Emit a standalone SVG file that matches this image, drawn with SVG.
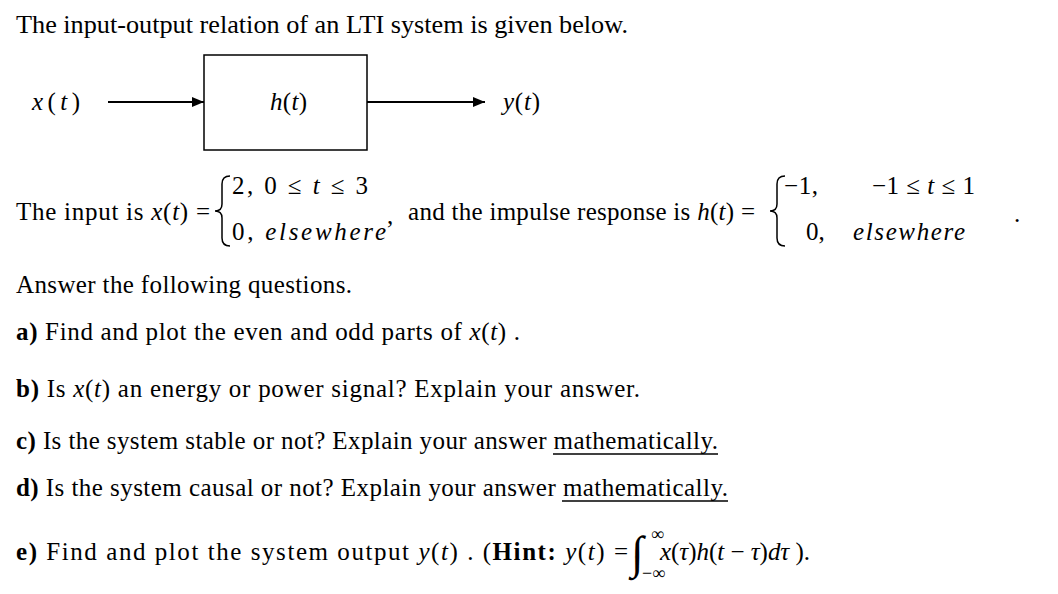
<svg xmlns="http://www.w3.org/2000/svg" width="1058" height="594" viewBox="0 0 1058 594">
<style>
text{font-family:"Liberation Serif","Times New Roman",serif;font-size:25px;fill:#000}
.i{font-style:italic}
.b{font-weight:bold}
.br{fill:none;stroke:#000;stroke-width:1.5}
</style>
<defs><marker id="ah" markerWidth="12" markerHeight="10" refX="12" refY="5" orient="auto" markerUnits="userSpaceOnUse"><path d="M0,0 L12,5 L0,10 Z" fill="#000"/></marker></defs>
<rect width="1058" height="594" fill="#fff"/>
<text x="16" y="33" textLength="612" lengthAdjust="spacingAndGlyphs">The input-output relation of an LTI system is given below.</text>
<g id="input"><text x="32" y="110" textLength="48"><tspan class="i">x</tspan>(<tspan class="i">t</tspan>)</text></g>
<g id="system"><rect x="204" y="55" width="163" height="95" fill="none" stroke="#000" stroke-width="1.5"/><text x="270" y="110" textLength="37"><tspan class="i">h</tspan>(<tspan class="i">t</tspan>)</text></g>
<g id="output"><text x="503" y="110" textLength="37"><tspan class="i">y</tspan>(<tspan class="i">t</tspan>)</text></g>
<g id="connectors" stroke="#000" stroke-width="2"><line x1="108" y1="102" x2="204" y2="102" marker-end="url(#ah)"/><line x1="367" y1="102" x2="485" y2="102" marker-end="url(#ah)"/></g>
<text x="16" y="220" textLength="194">The input is <tspan class="i">x</tspan>(<tspan class="i">t</tspan>) =</text>
<path class="br" d="M230,176 Q222,176 222,184 L222,204 Q222,211 215,211 Q222,211 222,218 L222,238 Q222,246 230,246"/>
<text x="232" y="194" textLength="136">2,  0 ≤ <tspan class="i">t</tspan> ≤ 3</text>
<text x="232" y="240" textLength="154">0,  <tspan class="i">elsewhere</tspan></text>
<text x="387" y="224">,</text>
<text x="408" y="220" textLength="347">and the impulse response is <tspan class="i">h</tspan>(<tspan class="i">t</tspan>) =</text>
<path class="br" d="M785,176 Q777,176 777,184 L777,204 Q777,211 770,211 Q777,211 777,218 L777,238 Q777,246 785,246"/>
<text x="784" y="194" textLength="34">−1,</text>
<text x="872" y="194" textLength="103">−1 ≤ <tspan class="i">t</tspan> ≤ 1</text>
<text x="806" y="240">0,</text>
<text x="853" y="240" class="i" textLength="112">elsewhere</text>
<text x="1014" y="222">.</text>
<text x="16" y="293" textLength="336">Answer the following questions.</text>
<text x="16" y="340" textLength="504"><tspan class="b">a)</tspan> Find and plot the even and odd parts of  <tspan class="i">x</tspan>(<tspan class="i">t</tspan>) .</text>
<text x="16" y="397" textLength="624"><tspan class="b">b)</tspan> Is  <tspan class="i">x</tspan>(<tspan class="i">t</tspan>)  an energy or power signal? Explain your answer.</text>
<text x="16" y="449" textLength="702"><tspan class="b">c)</tspan> Is the system stable or not? Explain your answer mathematically.</text>
<line x1="553" y1="454" x2="718" y2="454" stroke="#000" stroke-width="1.5"/>
<text x="16" y="496" textLength="712"><tspan class="b">d)</tspan> Is the system causal or not? Explain your answer mathematically.</text>
<line x1="562" y1="501" x2="728" y2="501" stroke="#000" stroke-width="1.5"/>
<text x="16" y="560" textLength="612"><tspan class="b">e)</tspan> Find and plot the system output  <tspan class="i">y</tspan>(<tspan class="i">t</tspan>) . (<tspan class="b">Hint:</tspan>  <tspan class="i">y</tspan>(<tspan class="i">t</tspan>) =</text>
<text x="631" y="568" style="font-size:46px">∫</text>
<text x="651" y="540" style="font-size:18px">∞</text>
<text x="642" y="579" style="font-size:18px">−∞</text>
<text x="660" y="560" textLength="150"><tspan class="i">x</tspan>(<tspan class="i">τ</tspan>)<tspan class="i">h</tspan>(<tspan class="i">t</tspan> − <tspan class="i">τ</tspan>)<tspan class="i">dτ</tspan> ).</text>
</svg>
